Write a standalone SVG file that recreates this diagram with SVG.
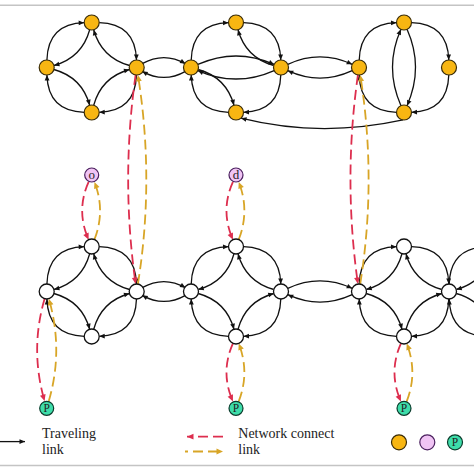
<svg xmlns="http://www.w3.org/2000/svg" width="474" height="474" viewBox="0 0 474 474">
<style>
.arc{fill:none;stroke:#111;stroke-width:1.3;marker-end:url(#ab)}
.red{fill:none;stroke:#DD2E4E;stroke-width:1.8;stroke-dasharray:10 5;marker-end:url(#ar)}
.yel{fill:none;stroke:#D8A526;stroke-width:1.8;stroke-dasharray:10 5;marker-end:url(#ay)}
.or{fill:#F8B612;stroke:#3a2c08;stroke-width:1.2}
.wh{fill:#fff;stroke:#111;stroke-width:1.3}
.pk{fill:#F0C4F4;stroke:#4a1f5e;stroke-width:1.2}
.gr{fill:#3EDDAA;stroke:#0c3b2c;stroke-width:1.2}
.lbl{font-family:"Liberation Serif","Times New Roman",serif;text-anchor:middle;fill:#222}
.leg{font-family:"Liberation Serif","Times New Roman",serif;font-size:14px;fill:#222}
.rule{stroke:#c4c4c4;stroke-width:1.6}
</style>
<defs>
<marker id="ab" viewBox="-6 -3 6 6" refX="0" refY="0" markerWidth="6" markerHeight="6" markerUnits="userSpaceOnUse" orient="auto"><path d="M0,0 L-5.5,-2.4 L-5.5,2.4 z" fill="#111"/></marker>
<marker id="ar" viewBox="-7 -3.5 7 7" refX="0" refY="0" markerWidth="7" markerHeight="7" markerUnits="userSpaceOnUse" orient="auto"><path d="M0,0 L-6.5,-2.9 L-6.5,2.9 z" fill="#DD2E4E"/></marker>
<marker id="ay" viewBox="-7 -3.5 7 7" refX="0" refY="0" markerWidth="7" markerHeight="7" markerUnits="userSpaceOnUse" orient="auto"><path d="M0,0 L-6.5,-2.9 L-6.5,2.9 z" fill="#D8A526"/></marker>
<path id="out" class="arc" d="M-44.78,-7.5 Q-43.71,-43.71 -7.5,-44.78"/>
<path id="in" class="arc" d="M-2,-37.77 Q-9.77,-9.77 -37.77,-2"/>
<path id="hu" class="arc" d="M-38.15,-3.05 Q0,-20 38.15,-3.05"/>
<path id="hl" class="arc" d="M38.15,3.05 Q0,20 -38.15,3.05"/>
<path id="vl" class="arc" d="M-3.05,38.15 Q-20,0 -3.05,-38.15"/>
<path id="vr" class="arc" d="M3.05,-38.15 Q20,0 3.05,38.15"/>
</defs>
<line class="rule" x1="0" y1="5.3" x2="474" y2="5.3"/>
<line class="rule" x1="0" y1="465.5" x2="474" y2="465.5"/>
<g id="connectors">
<g transform="translate(91.7,67.5)">
<use href="#out"/><use href="#in"/>
<use href="#out" transform="rotate(90)"/><use href="#in" transform="rotate(90)"/>
<use href="#out" transform="rotate(180)"/><use href="#in" transform="rotate(180)"/>
<use href="#out" transform="rotate(270)"/><use href="#in" transform="rotate(270)"/>
</g>
<g transform="translate(236,67.5)">
<use href="#out"/>
<use href="#out" transform="rotate(90)"/><use href="#in" transform="rotate(90)"/>
<use href="#out" transform="rotate(180)"/>
<use href="#out" transform="rotate(270)"/><use href="#in" transform="rotate(270)"/>
<use href="#hu"/><use href="#hl"/>
</g>
<g transform="translate(404,67.5)">
<use href="#out"/>
<use href="#out" transform="rotate(90)"/>
<use href="#out" transform="rotate(180)"/>
<use href="#out" transform="rotate(270)"/>
<use href="#vl"/><use href="#vr"/>
</g>
<path class="arc" d="M142.16,63.69 Q163.85,51.5 185.54,63.69"/>
<path class="arc" d="M185.54,71.31 Q163.85,83.5 142.16,71.31"/>
<path class="arc" d="M287.81,64.36 Q320,49.5 352.19,64.36"/>
<path class="arc" d="M352.19,70.64 Q320,85.5 287.81,70.64"/>
<path class="arc" d="M403,119.9 Q320,138 241,118.2"/>
<g transform="translate(91.7,291.5)">
<use href="#out"/><use href="#in"/>
<use href="#out" transform="rotate(90)"/><use href="#in" transform="rotate(90)"/>
<use href="#out" transform="rotate(180)"/><use href="#in" transform="rotate(180)"/>
<use href="#out" transform="rotate(270)"/><use href="#in" transform="rotate(270)"/>
</g>
<g transform="translate(236,291.5)">
<use href="#out"/><use href="#in"/>
<use href="#out" transform="rotate(90)"/><use href="#in" transform="rotate(90)"/>
<use href="#out" transform="rotate(180)"/><use href="#in" transform="rotate(180)"/>
<use href="#out" transform="rotate(270)"/><use href="#in" transform="rotate(270)"/>
</g>
<g transform="translate(404,291.5)">
<use href="#out"/><use href="#in"/>
<use href="#out" transform="rotate(90)"/><use href="#in" transform="rotate(90)"/>
<use href="#out" transform="rotate(180)"/><use href="#in" transform="rotate(180)"/>
<use href="#out" transform="rotate(270)"/><use href="#in" transform="rotate(270)"/>
</g>
<g transform="translate(494,291.5)">
<use href="#out"/><use href="#in"/>
<use href="#out" transform="rotate(270)"/><use href="#in" transform="rotate(270)"/>
</g>
<path class="arc" d="M142.16,287.69 Q163.85,275.5 185.54,287.69"/>
<path class="arc" d="M185.54,295.31 Q163.85,307.5 142.16,295.31"/>
<path class="arc" d="M287.81,288.36 Q320,273.5 352.19,288.36"/>
<path class="arc" d="M352.19,294.64 Q320,309.5 287.81,294.64"/>
<path class="red" d="M135.64,74.92 Q120.7,179.5 135.64,284.08"/>
<path class="yel" d="M137.89,284.1 Q154.7,179.5 137.89,74.9"/>
<path class="red" d="M357.94,74.92 Q343,179.5 357.94,284.08"/>
<path class="yel" d="M360.19,284.1 Q377,179.5 360.19,74.9"/>
<path class="red" d="M88.64,181.85 Q75.7,210.75 88.64,239.65"/>
<path class="yel" d="M94.44,239.52 Q105.7,210.75 94.44,181.98"/>
<path class="red" d="M232.94,181.85 Q220,210.75 232.94,239.65"/>
<path class="yel" d="M238.74,239.52 Q250,210.75 238.74,181.98"/>
<path class="red" d="M44.6,298.7 Q29.7,349.9 44.6,401.1"/>
<path class="yel" d="M48.8,401.1 Q63.7,349.9 48.8,298.7"/>
<path class="red" d="M232.95,343.35 Q220,372.4 232.95,401.45"/>
<path class="yel" d="M238.72,401.31 Q250,372.4 238.72,343.49"/>
<path class="red" d="M400.95,343.35 Q388,372.4 400.95,401.45"/>
<path class="yel" d="M406.72,401.31 Q418,372.4 406.72,343.49"/>
</g>
<g id="t1-l"><circle class="or" cx="46.7" cy="67.5" r="7.5"/></g>
<g id="t1-t"><circle class="or" cx="91.7" cy="22.5" r="7.5"/></g>
<g id="t1-r"><circle class="or" cx="136.7" cy="67.5" r="7.5"/></g>
<g id="t1-b"><circle class="or" cx="91.7" cy="112.5" r="7.5"/></g>
<g id="t2-l"><circle class="or" cx="191" cy="67.5" r="7.5"/></g>
<g id="t2-t"><circle class="or" cx="236" cy="22.5" r="7.5"/></g>
<g id="t2-r"><circle class="or" cx="281" cy="67.5" r="7.5"/></g>
<g id="t2-b"><circle class="or" cx="236" cy="112.5" r="7.5"/></g>
<g id="t3-l"><circle class="or" cx="359" cy="67.5" r="7.5"/></g>
<g id="t3-t"><circle class="or" cx="404" cy="22.5" r="7.5"/></g>
<g id="t3-r"><circle class="or" cx="449" cy="67.5" r="7.5"/></g>
<g id="t3-b"><circle class="or" cx="404" cy="112.5" r="7.5"/></g>
<g id="node-o"><circle class="pk" cx="91.7" cy="175" r="7"/><text class="lbl" x="91.7" y="179" font-size="13">o</text></g>
<g id="node-d"><circle class="pk" cx="236" cy="175" r="7"/><text class="lbl" x="236" y="179.3" font-size="13">d</text></g>
<g id="b1-l"><circle class="wh" cx="46.7" cy="291.5" r="7.5"/></g>
<g id="b1-t"><circle class="wh" cx="91.7" cy="246.5" r="7.5"/></g>
<g id="b1-r"><circle class="wh" cx="136.7" cy="291.5" r="7.5"/></g>
<g id="b1-b"><circle class="wh" cx="91.7" cy="336.5" r="7.5"/></g>
<g id="b2-l"><circle class="wh" cx="191" cy="291.5" r="7.5"/></g>
<g id="b2-t"><circle class="wh" cx="236" cy="246.5" r="7.5"/></g>
<g id="b2-r"><circle class="wh" cx="281" cy="291.5" r="7.5"/></g>
<g id="b2-b"><circle class="wh" cx="236" cy="336.5" r="7.5"/></g>
<g id="b3-l"><circle class="wh" cx="359" cy="291.5" r="7.5"/></g>
<g id="b3-t"><circle class="wh" cx="404" cy="246.5" r="7.5"/></g>
<g id="b3-r"><circle class="wh" cx="449" cy="291.5" r="7.5"/></g>
<g id="b3-b"><circle class="wh" cx="404" cy="336.5" r="7.5"/></g>
<g id="p1"><circle class="gr" cx="46.7" cy="408.3" r="7"/><text class="lbl" x="46.7" y="412.3" font-size="11.5">P</text></g>
<g id="p2"><circle class="gr" cx="236" cy="408.3" r="7"/><text class="lbl" x="236" y="412.3" font-size="11.5">P</text></g>
<g id="p3"><circle class="gr" cx="404" cy="408.3" r="7"/><text class="lbl" x="404" y="412.3" font-size="11.5">P</text></g>
<g id="legend">
<path class="arc" d="M-2,441.6 L25,441.6"/>
<text class="leg" x="42" y="438.3">Traveling</text>
<text class="leg" x="42" y="454">link</text>
<path class="red" d="M223,436.7 L187,436.7"/>
<path class="yel" d="M185,451.5 L223,451.5" stroke-dashoffset="7"/>
<text class="leg" x="238.3" y="438.3">Network connect</text>
<text class="leg" x="238.3" y="454">link</text>
<circle class="or" cx="399" cy="442.3" r="7.5"/>
<circle class="pk" cx="427.3" cy="442.3" r="7.5"/>
<circle class="gr" cx="455" cy="442.3" r="7.5"/>
<text class="lbl" x="455" y="446.3" font-size="11.5">P</text>
</g>
</svg>
